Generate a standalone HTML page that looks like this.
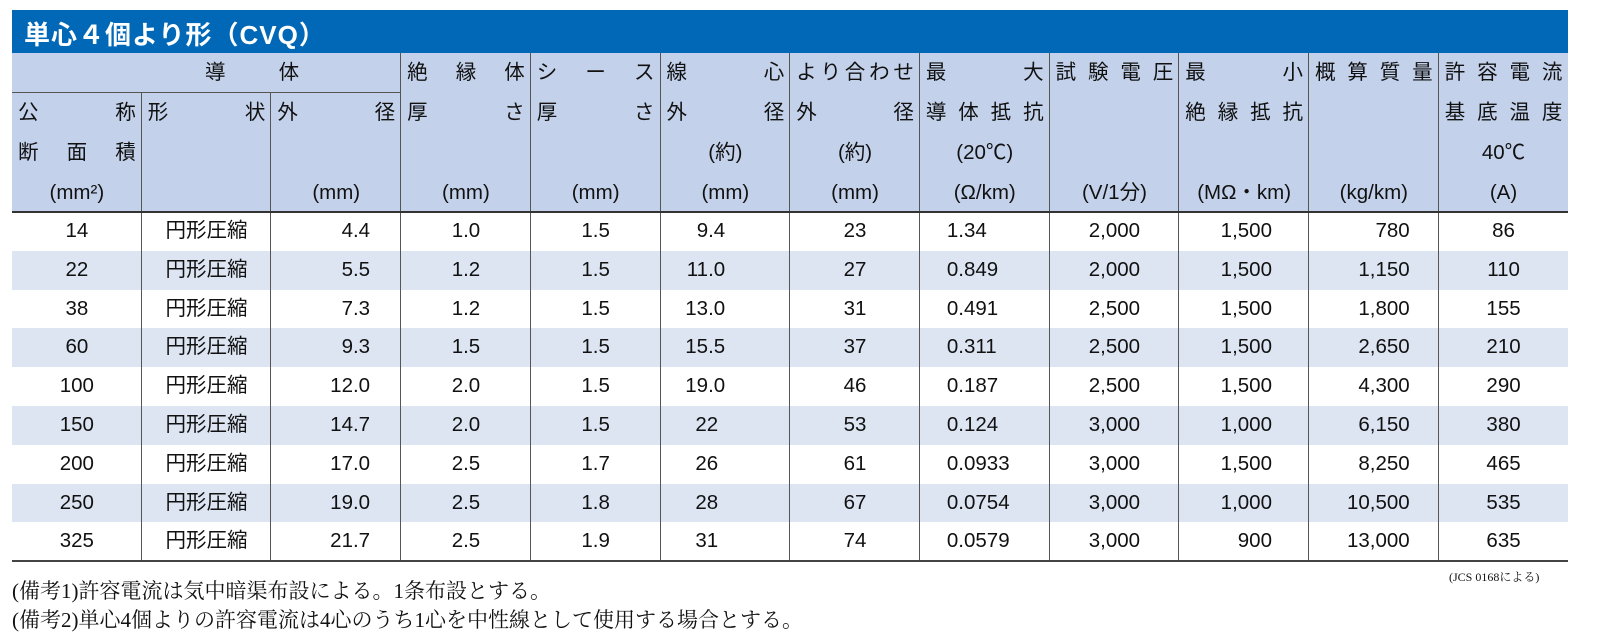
<!DOCTYPE html>
<html><head><meta charset="utf-8"><style>
body{margin:0;width:1600px;height:642px;background:#fff;font-family:"Liberation Sans","Noto Sans CJK JP",sans-serif;position:relative;overflow:hidden;color:#111}
.a{position:absolute;box-sizing:border-box}
.t{left:12px;top:10px;width:1556px;height:43px;background:#0068b7;color:#fff;font-size:26px;font-weight:bold;padding:5px 0 0 12px;letter-spacing:1px}
.hb{left:12px;top:53px;width:1556px;height:159px;background:#c3d1ea}
.vl{width:1px;background:#555}
.hl{height:1px;background:#333}
.c{font-size:20.5px;line-height:39px;height:39px;white-space:nowrap}
.j{display:flex;justify-content:space-between;padding:0 6px}
.ctr{text-align:center}
.band{left:12px;width:1556px;height:39px;background:#dde5f3}
.fn{font-size:21px;left:12px;font-family:"Liberation Serif","Noto Serif CJK SC",serif}
</style></head><body>
<div class="a t">単心４個より形（CVQ）</div>
<div class="a hb"></div>
<div id="g"></div>
<script>
var W=129.7,X=[];for(var i=0;i<=12;i++)X.push(12+W*i);
var H=[53,93,133,173,212];
var RH=38.8;
var out='';
function cell(x,w,y,txt,mode,extra){
 if(!txt)return;
 var parts=txt.split(' ');
 if(mode=='j'&&parts.length>1){out+='<div class="a c j" style="left:'+x+'px;top:'+y+'px;width:'+w+'px;'+(extra||'')+'">'+parts.map(p=>'<span>'+p+'</span>').join('')+'</div>';}
 else out+='<div class="a c ctr" style="left:'+x+'px;top:'+y+'px;width:'+w+'px;'+(extra||'')+'">'+txt+'</div>';
}
for(var r=0;r<9;r++){if(r%2==1)out+='<div class="a band" style="top:'+(212+RH*r)+'px;height:'+RH+'px"></div>';}
cell(X[0],X[3]-X[0],53,'導 体','j','padding:0 102px 0 193px');
var h02=[['公 称','断 面 積','(mm²)'],['形 状','',''],['外 径','','(mm)']];
for(var c=0;c<3;c++)for(var k=0;k<3;k++){var t=h02[c][k];cell(X[c],W,H[k+1],t,t&&t.indexOf(' ')>0?'j':'c');}
var hs=[['絶 縁 体','厚 さ','','(mm)'],['シ ー ス','厚 さ','','(mm)'],['線 心','外 径','(約)','(mm)'],['よ り 合 わ せ','外 径','(約)','(mm)'],['最 大','導 体 抵 抗','(20℃)','(Ω/km)'],['試 験 電 圧','','','(V/1分)'],['最 小','絶 縁 抵 抗','','(MΩ・km)'],['概 算 質 量','','','(kg/km)'],['許 容 電 流','基 底 温 度','40℃','(A)']];
for(var c=0;c<9;c++)for(var k=0;k<4;k++){var t=hs[c][k];cell(X[c+3],W,H[k],t,(t&&t.indexOf(' ')>0)?'j':'c');}
var D=[['14','4.4','1.0','1.5','9.4','23','1.34','2,000','1,500','780','86'],
['22','5.5','1.2','1.5','11.0','27','0.849','2,000','1,500','1,150','110'],
['38','7.3','1.2','1.5','13.0','31','0.491','2,500','1,500','1,800','155'],
['60','9.3','1.5','1.5','15.5','37','0.311','2,500','1,500','2,650','210'],
['100','12.0','2.0','1.5','19.0','46','0.187','2,500','1,500','4,300','290'],
['150','14.7','2.0','1.5','22','53','0.124','3,000','1,000','6,150','380'],
['200','17.0','2.5','1.7','26','61','0.0933','3,000','1,500','8,250','465'],
['250','19.0','2.5','1.8','28','67','0.0754','3,000','1,000','10,500','535'],
['325','21.7','2.5','1.9','31','74','0.0579','3,000','900','13,000','635']];
for(var r=0;r<9;r++){var y=212+RH*r,d=D[r];
 var row=[[d[0],'text-align:center'],['円形圧縮','text-align:center'],[d[1],'text-align:right;padding-right:31px'],[d[2],'text-align:center'],[d[3],'text-align:center'],[d[4],'text-align:right;padding-right:'+(d[4].indexOf('.')>0?65:72)+'px'],[d[5],'text-align:center'],[d[6],'text-align:left;padding-left:27px'],[d[7],'text-align:center'],[d[8],'text-align:right;padding-right:37px'],[d[9],'text-align:right;padding-right:29px'],[d[10],'text-align:center']];
 for(var c=0;c<12;c++)out+='<div class="a c" style="left:'+X[c]+'px;top:'+(y)+'px;height:'+RH+'px;line-height:'+RH+'px;width:'+W+'px;'+row[c][1]+'">'+row[c][0]+'</div>';
}
for(var i=1;i<12;i++){var ty=(i==1||i==2)?93:53;out+='<div class="a vl" style="left:'+Math.round(X[i]-1)+'px;top:'+ty+'px;height:'+(561-ty)+'px"></div>';}
out+='<div class="a hl" style="left:12px;top:92px;width:389px;background:#555"></div>';
out+='<div class="a hl" style="left:12px;top:211px;width:1556px;height:2px"></div>';
out+='<div class="a hl" style="left:12px;top:560px;width:1556px;height:2px;background:#444"></div>';
document.getElementById('g').innerHTML=out;
</script>
<div class="a" style="left:1449px;top:568px;font-size:12px;font-family:'Liberation Serif','Noto Serif CJK SC',serif">(JCS 0168による)</div>
<div class="a fn" style="top:575px">(備考1)許容電流は気中暗渠布設による。1条布設とする。</div>
<div class="a fn" style="top:604px">(備考2)単心4個よりの許容電流は4心のうち1心を中性線として使用する場合とする。</div>
</body></html>
